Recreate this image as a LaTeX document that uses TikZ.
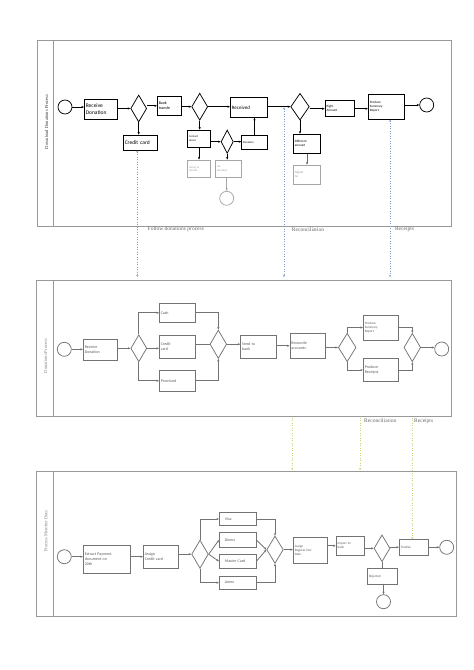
\documentclass[tikz,border=0pt]{standalone}
\usepackage{fontspec}
\setmainfont{Liberation Serif}
\newfontfamily\boxfont{Carlito}
\usetikzlibrary{shapes.geometric,arrows.meta}
\definecolor{msgblue}{HTML}{7F9CD0}
\definecolor{msgyel}{HTML}{CDD37A}
\begin{document}
\begin{tikzpicture}[x=1pt,y=-1pt,
  box/.style={draw, line width=0.75pt, rectangle, inner xsep=1.5pt, inner ysep=0pt, align=left},
  fL/.style={font=\boxfont\fontsize{5.5}{6.4}\selectfont},
  fM/.style={font=\boxfont\fontsize{4}{4.8}\selectfont},
  fS/.style={font=\boxfont\fontsize{3.3}{4}\selectfont},
  fT/.style={font=\boxfont\fontsize{2.8}{3.4}\selectfont},
  gw/.style={draw, diamond, inner sep=0pt, line width=0.75pt},
  ev/.style={draw, circle, inner sep=0pt, minimum size=14pt, line width=0.75pt},
  faded/.style={draw=black!35, text=black!40},
  soft/.style={draw=black!55, text=black!65},
  flow/.style={line width=0.75pt, -{Stealth[length=2.6pt,width=2.2pt]}},
  flow2/.style={line width=0.8pt, draw=black!55, -{Stealth[length=2.6pt,width=2.2pt]}},
  line2/.style={line width=0.8pt, draw=black!55},
  pool/.style={draw=black!40, line width=0.8pt},
  msg1/.style={draw=msgblue, line width=0.5pt, dotted, {Stealth[length=2pt,width=2pt]}-{Stealth[length=2pt,width=2pt]}},
  msg2/.style={draw=msgyel, line width=0.5pt, dotted, -{Stealth[length=2pt,width=2pt]}},
  lbl/.style={text=black!60, font=\fontsize{5.5}{6.4}\selectfont, inner sep=0pt},
  lane/.style={rotate=90, font=\fontsize{4.6}{5.4}\selectfont, inner sep=0pt}
]
\useasboundingbox (0,0) rectangle (474,670);

% ---------------- Pools ----------------
\draw[pool] (37,40) rectangle (451,226);
\draw[pool] (53,40) -- (53,226);
\draw[pool] (36.7,280.7) rectangle (451.7,416.7);
\draw[pool] (53.3,280.7) -- (53.3,416.7);
\draw[pool] (36.7,471.7) rectangle (456,616);
\draw[pool] (53.3,471.7) -- (53.3,616);
\node[lane, text=black!80] (lane1) at (46.5,122) {Download Donations Process};
\node[lane, text=black!50] (lane2) at (45.7,356) {Donations Process};
\node[lane, text=black!50] (lane3) at (45.7,531) {Process Member Dues};

% ---------------- Pool 1 ----------------
\node[ev] (s1) at (65,107) {};
\node[box, fL, text width=30pt, minimum height=20pt] (rd1) at (100.8,109.3) {Receive\\Donation};
\node[gw, minimum width=16pt, minimum height=27pt] (g1) at (138.7,108.5) {};
\node[box, fL, text width=31pt, minimum height=15pt] (cc1) at (140.3,142.5) {Credit card};
\node[box, fM, text width=21.4pt, minimum height=19.7pt] (bt1) at (169.5,105.8) {Bank\\transfe};
\node[gw, minimum width=16pt, minimum height=27pt] (g2) at (199.7,106.7) {};
\node[box, font=\boxfont\fontsize{5}{6}\selectfont, text width=34pt, minimum height=20pt] (rc1) at (248.8,107.3) {Received};
\node[box, fT, text width=19.6pt, minimum height=17.3pt] (cd1) at (199,138.7) {Contact\\donor};
\node[gw, minimum width=12.3pt, minimum height=23.3pt] (g3) at (227.2,141.7) {};
\node[box, fT, text width=22.6pt, minimum height=14.3pt] (dn1) at (254.5,142.2) {Donation};
\node[box, fT, faded, text width=19.3pt, minimum height=17.7pt] (gt1) at (198.8,168.8) {Going to\\donate};
\node[box, fT, faded, text width=23pt, minimum height=17.7pt] (nd1) at (228.7,168.8) {No\\donation};
\node[ev, draw=black!35] (e1b) at (226.7,198.3) {};
\node[gw, minimum width=18.6pt, minimum height=26.7pt] (g4) at (300,106.7) {};
\node[box, fS, text width=26pt, minimum height=16pt] (ra1) at (339.5,108.7) {Right\\Amount};
\node[box, fS, text width=24.4pt, minimum height=19.3pt] (da1) at (307,143.7) {Different\\amount};
\node[box, fS, faded, text width=24.4pt, minimum height=19.3pt] (ad1) at (307,174.7) {Adjust\\GL};
\node[box, fS, text width=33pt, minimum height=25pt] (ps1) at (386.3,106.8) {Produce\\Summary\\Report};
\node[ev] (e1) at (426.7,105) {};

\draw[flow] (s1.east) -- (s1.east -| rd1.west);
\draw[flow] (rd1.east |- g1.west) -- (g1.west);
\draw[flow] (g1.east |- bt1.west) -- (bt1.west);
\draw[flow] (g1.south) -- (g1.south |- cc1.north);
\draw[flow] (bt1.east |- g2.west) -- (g2.west);
\draw[flow] (g2.east) -- (g2.east -| rc1.west);
\draw[flow] (g2.south) -- (g2.south |- cd1.north);
\draw[flow] (cd1.east |- g3.west) -- (g3.west);
\draw[flow] (cd1.south) -- (cd1.south |- gt1.north);
\draw[flow] (g3.east) -- (g3.east -| dn1.west);
\draw[flow] (g3.south) -- (g3.south |- nd1.north);
\draw[flow] (dn1.north) -- (dn1.north |- rc1.south);
\draw[flow, draw=black!35] (nd1.south -| e1b.north) -- (e1b.north);
\draw[flow] (rc1.east |- g4.west) -- (g4.west);
\draw[flow] (g4.east |- ra1.west) -- (ra1.west);
\draw[flow] (g4.south) -- (g4.south |- da1.north);
\draw[flow, draw=black!60] (da1.south) -- (ad1.north);
\draw[flow] (ra1.east) -- (ra1.east -| ps1.west);
\draw[flow] (ps1.east |- e1.west) -- (e1.west);

% message flows pool 1 <-> pool 2
\coordinate (m1b) at (137.3,277);
\coordinate (m2b) at (284,277);
\coordinate (m3b) at (390,277);
\draw[msg1] (m1b |- cc1.south) -- (m1b);
\draw[msg1] (m2b |- rc1.east) -- (m2b);
\draw[msg1] (m3b |- ps1.south) -- (m3b);
\node[lbl] (t1) at (175.8,229.3) {Follow donations process};
\node[lbl] (t2) at (308,229.3) {Reconciliation};
\node[lbl] (t3) at (404.5,229.3) {Receipts};

% ---------------- Pool 2 ----------------
\node[ev, draw=black!55] (s2) at (64.3,349.3) {};
\node[box, fM, soft, text width=31pt, minimum height=20.7pt] (rd2) at (100.3,349.7) {Receive\\Donation};
\node[gw, draw=black!55, minimum width=16pt, minimum height=27pt] (g5) at (138.8,348.3) {};
\node[box, fM, soft, text width=32.7pt, minimum height=19pt] (ca2) at (177.2,312.8) {Cash};
\node[box, fM, soft, text width=32.7pt, minimum height=23.3pt] (cc2) at (177.2,346.7) {Credit\\card};
\node[box, fM, soft, text width=32.7pt, minimum height=21.7pt] (pr2) at (177.2,380.8) {Promised};
\node[gw, draw=black!55, minimum width=16.7pt, minimum height=28.3pt] (g6) at (218.3,344.2) {};
\node[box, fM, soft, text width=33pt, minimum height=23.3pt] (sb2) at (258.7,346.7) {Send to\\bank};
\node[box, fM, soft, text width=32.7pt, minimum height=25pt] (ra2) at (307.8,345.8) {Reconcile\\accounts};
\node[gw, draw=black!55, minimum width=17.7pt, minimum height=28.4pt] (g7) at (347.2,347.5) {};
\node[box, fS, soft, text width=32pt, minimum height=25pt] (ps2) at (380.8,327.5) {Produce\\Summary\\Report};
\node[box, fM, soft, text width=32pt, minimum height=23.3pt] (pc2) at (380.8,370) {Produce\\Receipts};
\node[gw, draw=black!55, minimum width=16.7pt, minimum height=28.4pt] (g8) at (412.3,347.5) {};
\node[ev, draw=black!55] (e2) at (441.7,349) {};

\draw[flow2] (s2.east) -- (s2.east -| rd2.west);
\draw[flow2] (rd2.east |- g5.west) -- (g5.west);
\draw[flow2] (g5.north) |- (ca2.west);
\draw[flow2] (g5.east) -- (g5.east -| cc2.west);
\draw[flow2] (g5.south) |- (pr2.west);
\draw[flow2] (ca2.east) -| (g6.north);
\draw[line2] (cc2.east |- g6.west) -- (g6.west);
\draw[flow2] (pr2.east) -| (g6.south);
\draw[flow2] (g6.east) -- (g6.east -| sb2.west);
\draw[flow2] (sb2.east |- ra2.west) -- (ra2.west);
\draw[flow2] (ra2.east |- g7.west) -- (g7.west);
\draw[flow2] (g7.north) |- (ps2.west);
\draw[flow2] (g7.south) |- (pc2.west);
\draw[flow2] (ps2.east) -| (g8.north);
\draw[flow2] (pc2.east) -| (g8.south);
\draw[flow2] (g8.east) -- (g8.east -| e2.west);

% ---------------- Pool 3 ----------------
\node[ev, draw=black!55] (s3) at (64.3,556.7) {};
\node[box, fM, soft, text width=44.4pt, minimum height=28.3pt] (ex3) at (107,559.2) {Extract Payment\\document on\\20th};
\node[box, fM, soft, text width=32pt, minimum height=23.3pt] (ac3) at (160.8,556.7) {Assign\\Credit card};
\node[gw, draw=black!55, minimum width=16.6pt, minimum height=28.3pt] (g9) at (200,554.2) {};
\node[box, fM, soft, text width=33.7pt, minimum height=13.4pt] (vi3) at (237.7,519) {\hspace*{4pt}Visa};
\node[box, fM, soft, text width=33.7pt, minimum height=14.6pt] (di3) at (237.7,540) {\hspace*{4pt}Diners};
\node[box, fM, soft, text width=33.7pt, minimum height=14pt] (mc3) at (237.7,561.3) {\hspace*{4pt}Master Card};
\node[box, fM, soft, text width=33.7pt, minimum height=13.3pt] (am3) at (237.7,582.7) {\hspace*{4pt}Amex};
\node[gw, draw=black!55, minimum width=16.6pt, minimum height=27.3pt] (g10) at (275,549.7) {};
\node[box, fS, soft, text width=31pt, minimum height=26pt] (ar3) at (310.3,550.3) {Assign\\Register Doc\\Date};
\node[box, fS, soft, text width=25.3pt, minimum height=18.3pt] (ib3) at (350.2,545.8) {Import to\\bank};
\node[gw, draw=black!55, minimum width=16pt, minimum height=26.7pt] (g11) at (382,548.3) {};
\node[box, fS, soft, text width=26pt, minimum height=15.7pt] (fi3) at (413.8,547.2) {Finalise};
\node[ev, draw=black!55] (e3) at (446.7,547.3) {};
\node[box, fS, soft, text width=27pt, minimum height=15.7pt] (rj3) at (382.5,576.2) {Rejected};
\node[ev, draw=black!55] (e3b) at (383.5,601.7) {};

\draw[flow2] (s3.east) -- (s3.east -| ex3.west);
\draw[flow2] (ex3.east |- ac3.west) -- (ac3.west);
\draw[flow2] (ac3.east |- g9.west) -- (g9.west);
\draw[flow2] (g9.north) |- (vi3.west);
\draw[flow2] (g9.east) -- (di3.west);
\draw[flow2] (g9.east) -- (mc3.west);
\draw[flow2] (g9.south) |- (am3.west);
\draw[flow2] (vi3.east) -| (g10.north);
\draw[flow2] (di3.east) -- (g10.west);
\draw[flow2] (mc3.east) -- (g10.west);
\draw[flow2] (am3.east) -| (g10.south);
\draw[flow2] (g10.east) -- (g10.east -| ar3.west);
\draw[flow2] (ar3.east |- ib3.west) -- (ib3.west);
\draw[flow2] (ib3.east |- g11.west) -- (g11.west);
\draw[flow2] (g11.east |- fi3.west) -- (fi3.west);
\draw[flow2] (fi3.east |- e3.west) -- (e3.west);
\draw[line2] (g11.south) -- (g11.south |- rj3.north);
\draw[flow2] (rj3.south -| e3b.north) -- (e3b.north);

% message flows pool 2 -> pool 3
\coordinate (m4t) at (292.3,417.5);
\coordinate (m5t) at (360,417.5);
\coordinate (m6t) at (412.3,417.5);
\coordinate (m4b) at (292.3,470);
\coordinate (m5b) at (360,470);
\draw[msg2] (m4t) -- (m4b);
\draw[msg2] (m5t) -- (m5b);
\draw[msg2] (m6t) -- (m6t |- fi3.north);
\node[lbl, anchor=west] (t4) at (364,421) {Reconciliation};
\node[lbl, anchor=west] (t5) at (414,421) {Receipts};
\end{tikzpicture}
\end{document}
